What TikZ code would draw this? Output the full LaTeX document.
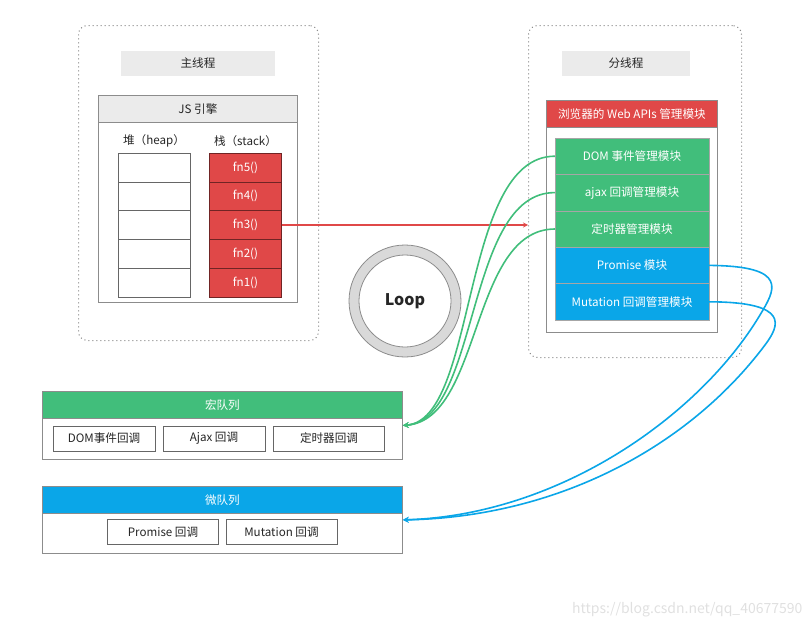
\documentclass[tikz,border=0pt]{standalone}
\usepackage{fontspec}
\setmainfont{Noto Sans CJK SC}
\usetikzlibrary{arrows,positioning,calc}
\definecolor{stackred}{HTML}{E04848}
\definecolor{apigreen}{HTML}{41BE7B}
\definecolor{apiblue}{HTML}{0AA6E8}
\definecolor{tabgray}{HTML}{EBEBEB}

\tikzset{
  threadbox/.style={draw=black!50,line width=1pt,dash pattern=on 1pt off 3pt,rounded corners=9pt,anchor=north west},
  tagbox/.style={fill=tabgray,minimum height=25,text=black!85},
  panel/.style={draw=black!45,fill=white,anchor=north west,line width=0.8pt},
  heapcell/.style={draw=black!60,fill=white,minimum width=72,minimum height=28.8,outer sep=0pt},
  stackcell/.style={heapcell,draw=black!50!stackred,fill=stackred,text=white},
  module/.style={draw=black!35,fill=apigreen,text=white,minimum width=154,minimum height=36.4,outer sep=0pt},
  cbbox/.style={draw=black!60,fill=white,minimum height=25,text=black!85},
}

\begin{document}
\begin{tikzpicture}[x=1pt,y=-1pt,>=stealth,every node/.style={font=\fontsize{11.6}{13}\selectfont}]
\useasboundingbox (0,0) rectangle (812,629);

% main thread
\node (mainthread) [threadbox,minimum width=240,minimum height=315] at (78,25) {};
\node (maintag) [tagbox,minimum width=154] at (198,63.5) {主线程};
\node (engine) [panel,minimum width=199,minimum height=207] at (98,95) {};
\node (enginehead) [panel,fill=tabgray,text=black!85,minimum width=199,minimum height=27] at (98,95) {JS 引擎};
\node (heaplabel) [text=black!85] at (154,141) {堆（heap）};
\node (stacklabel) [text=black!85] at (245.5,141) {栈（stack）};
\node (heap1) [heapcell,anchor=north] at (154,153) {};
\node (heap2) [heapcell,below=0pt of heap1] {};
\node (heap3) [heapcell,below=0pt of heap2] {};
\node (heap4) [heapcell,below=0pt of heap3] {};
\node (heap5) [heapcell,below=0pt of heap4] {};
\node (fn5) [stackcell,anchor=north] at (245.5,153) {fn5()};
\node (fn4) [stackcell,below=0pt of fn5] {fn4()};
\node (fn3) [stackcell,below=0pt of fn4] {fn3()};
\node (fn2) [stackcell,below=0pt of fn3] {fn2()};
\node (fn1) [stackcell,below=0pt of fn2] {fn1()};

% branch thread
\node (branchthread) [threadbox,minimum width=213,minimum height=332] at (528,25) {};
\node (branchtag) [tagbox,minimum width=128] at (626,63.5) {分线程};
\node (apibox) [panel,minimum width=171,minimum height=232] at (546,100) {};
\node (apihead) [panel,fill=stackred,text=white,minimum width=171,minimum height=27] at (546,100) {浏览器的 Web APIs 管理模块};
\node (dom) [module,anchor=north] at (632,138) {DOM 事件管理模块};
\node (ajax) [module,below=0pt of dom] {ajax 回调管理模块};
\node (timer) [module,below=0pt of ajax] {定时器管理模块};
\node (promise) [module,fill=apiblue,below=0pt of timer] {Promise 模块};
\node (mutation) [module,fill=apiblue,below=0pt of promise] {Mutation 回调管理模块};

% event loop
\node (loopring) [circle,draw=black!45,fill=black!15,line width=0.8pt,minimum size=112] at (405,301) {};
\node (loop) [circle,draw=black!45,fill=white,line width=0.8pt,minimum size=92,text=black!85,font=\fontsize{16}{18}\selectfont\bfseries] at (405,301) {Loop};

% queues
\node (macro) [panel,minimum width=360,minimum height=68] at (42,391) {};
\node (macrohead) [panel,fill=apigreen,text=white,minimum width=360,minimum height=27] at (42,391) {宏队列};
\node (domcb) [cbbox,minimum width=102] at (104,438.5) {DOM事件回调};
\node (ajaxcb) [cbbox,minimum width=102] at (214,438.5) {Ajax 回调};
\node (timercb) [cbbox,minimum width=111] at (329,438.5) {定时器回调};
\node (micro) [panel,minimum width=360,minimum height=67] at (42,486) {};
\node (microhead) [panel,fill=apiblue,text=white,minimum width=360,minimum height=27] at (42,486) {微队列};
\node (promisecb) [cbbox,minimum width=111] at (163,532) {Promise 回调};
\node (mutationcb) [cbbox,minimum width=111] at (281.5,532) {Mutation 回调};

\node (watermark) [text=black!12,anchor=east,font=\fontsize{14}{16}\selectfont] at (806,610) {https://blog.csdn.net/qq\_40677590};

% connectors
\draw [->,stackred,line width=1.2pt] (fn3.east) -- (fn3.east -| branchthread.west);
\draw [->,apigreen,line width=1.6pt] (dom.west) .. controls (460,156) and (478,420) .. (macro.east);
\draw [->,apigreen,line width=1.6pt] (ajax.west) .. controls (465,192) and (480,420) .. (macro.east);
\draw [->,apigreen,line width=1.6pt] (timer.west) .. controls (470,229) and (482,420) .. (macro.east);
\draw [->,apiblue,line width=1.6pt] (promise.east) .. controls (790,266) and (775,290) .. (760,315) .. controls (700,415) and (560,515) .. (micro.east);
\draw [->,apiblue,line width=1.6pt] (mutation.east) .. controls (790,302) and (780,325) .. (765,345) .. controls (690,445) and (560,517) .. (micro.east);
\end{tikzpicture}
\end{document}
